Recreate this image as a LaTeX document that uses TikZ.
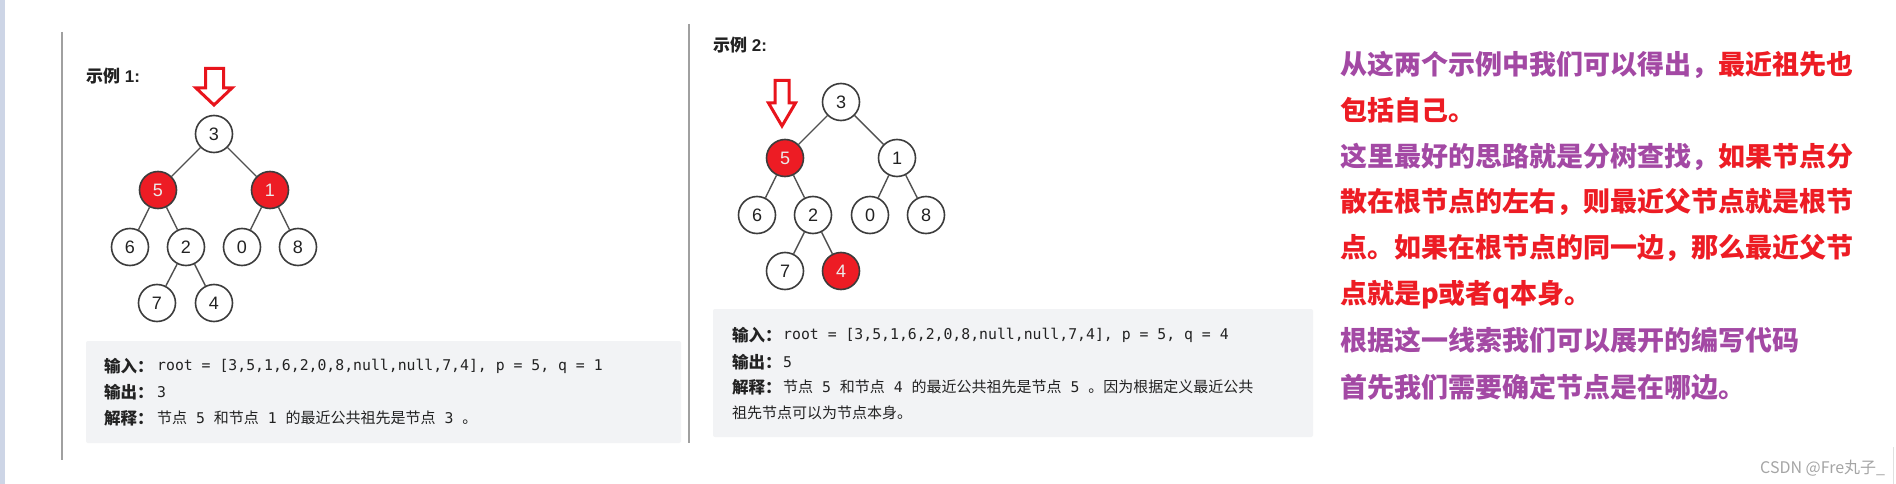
\documentclass[tikz,border=0pt]{standalone}
\usepackage{fontspec}
\setmainfont{Liberation Sans}
\newfontfamily\cjk{Noto Sans CJK SC}
\newfontfamily\mono{DejaVu Sans Mono}
\definecolor{strip}{HTML}{CDD5E6}
\definecolor{sepline}{HTML}{A0A0A0}
\definecolor{boxbg}{HTML}{F2F3F5}
\definecolor{nodered}{HTML}{ED1C24}
\definecolor{arrred}{HTML}{E8141C}
\definecolor{purp}{HTML}{A349A4}
\definecolor{redt}{HTML}{ED1C24}
\definecolor{txt}{HTML}{222222}
\tikzset{
  tnode/.style={circle, draw={rgb,255:red,60;green,60;blue,60}, line width=1.6pt, fill=white,
    minimum size=37pt, inner sep=0pt, font=\fontsize{18}{20}\selectfont, text={rgb,255:red,34;green,34;blue,34}},
  rnode/.style={tnode, fill=nodered, text={rgb,255:red,235;green,235;blue,235}},
  tedge/.style={draw={rgb,255:red,80;green,80;blue,80}, line width=1.4pt},
  hollowarrow/.style={draw=arrred, line width=3pt, line join=miter},
  title/.style={anchor=west, inner sep=0pt, text=txt, font=\fontsize{17}{19}\selectfont\bfseries},
  lbl/.style={anchor=west, inner sep=0pt, text=txt, font=\cjk\fontsize{16.5}{18}\selectfont\bfseries},
  body/.style={anchor=west, inner sep=0pt, text=txt, font=\cjk\fontsize{15}{18}\selectfont},
  side/.style={anchor=west, inner sep=0pt, font=\cjk\fontsize{27}{30}\selectfont\bfseries},
  wmark/.style={anchor=west, inner sep=0pt, text={rgb,255:red,165;green,165;blue,165}, font=\cjk\fontsize{16}{18}\selectfont}
}
\newcommand{\mn}[1]{{\mono\fontsize{14.8}{18}\selectfont #1}}
\begin{document}
\begin{tikzpicture}[x=1pt,y=-1pt]
\useasboundingbox (0,0) rectangle (1896,484);
\fill[white] (0,0) rectangle (1896,484);
\fill[strip] (0,0) rectangle (5,484);
% separators
\coordinate (s1a) at (62,32); \coordinate (s1b) at (62,460);
\coordinate (s2a) at (689,24); \coordinate (s2b) at (689,443);
\coordinate (s3a) at (1893,447); \coordinate (s3b) at (1893,484);
\draw[sepline, line width=1.2pt] (s1a) -- (s1b);
\draw[sepline, line width=1.2pt] (s2a) -- (s2b);
\draw[black!12, line width=1pt] (s3a) -- (s3b);

% ===== Example 1 =====
\node[title] (t1) at (86,76) {{\cjk 示例} 1:};
\draw[hollowarrow] (205.5,68.5) -- (223.5,68.5) -- (223.5,88) -- (232,88) -- (214,105) -- (196,88) -- (205.5,88) -- cycle;
\node[tnode] (a3) at (214,134) {3};
\node[rnode] (a5) at (158,190) {5};
\node[rnode] (a1) at (270,190) {1};
\node[tnode] (a6) at (130,247) {6};
\node[tnode] (a2) at (186,247) {2};
\node[tnode] (a0) at (242,247) {0};
\node[tnode] (a8) at (298,247) {8};
\node[tnode] (a7) at (157,303) {7};
\node[tnode] (a4) at (214,303) {4};
\draw[tedge] (a3) -- (a5); \draw[tedge] (a3) -- (a1);
\draw[tedge] (a5) -- (a6); \draw[tedge] (a5) -- (a2);
\draw[tedge] (a1) -- (a0); \draw[tedge] (a1) -- (a8);
\draw[tedge] (a2) -- (a7); \draw[tedge] (a2) -- (a4);

\fill[boxbg, rounded corners=2pt] (86,341) rectangle (681,443);
\node[lbl] (l11) at (104,366) {输入：};
\node[body] (b11) at (157,366) {\mn{root = [3,5,1,6,2,0,8,null,null,7,4], p = 5, q = 1}};
\node[lbl] (l12) at (104,392) {输出：};
\node[body] (b12) at (157,392) {\mn{3}};
\node[lbl] (l13) at (104,418) {解释：};
\node[body] (b13) at (157,418) {节点\mn{\ 5\ }和节点\mn{\ 1\ }的最近公共祖先是节点\mn{\ 3\ }。};

% ===== Example 2 =====
\node[title] (t2) at (713,45) {{\cjk 示例} 2:};
\draw[hollowarrow] (775,80.5) -- (789,80.5) -- (789,103) -- (795.5,103) -- (782,126) -- (768.5,103) -- (775,103) -- cycle;
\node[tnode] (c3) at (841,102) {3};
\node[rnode] (c5) at (785,158) {5};
\node[tnode] (c1) at (897,158) {1};
\node[tnode] (c6) at (757,215) {6};
\node[tnode] (c2) at (813,215) {2};
\node[tnode] (c0) at (870,215) {0};
\node[tnode] (c8) at (926,215) {8};
\node[tnode] (c7) at (785,271) {7};
\node[rnode] (c4) at (841,271) {4};
\draw[tedge] (c3) -- (c5); \draw[tedge] (c3) -- (c1);
\draw[tedge] (c5) -- (c6); \draw[tedge] (c5) -- (c2);
\draw[tedge] (c1) -- (c0); \draw[tedge] (c1) -- (c8);
\draw[tedge] (c2) -- (c7); \draw[tedge] (c2) -- (c4);

\fill[boxbg, rounded corners=2pt] (713,309) rectangle (1313,437);
\node[lbl] (l21) at (732,335) {输入：};
\node[body] (b21) at (783,335) {\mn{root = [3,5,1,6,2,0,8,null,null,7,4], p = 5, q = 4}};
\node[lbl] (l22) at (732,362) {输出：};
\node[body] (b22) at (783,362) {\mn{5}};
\node[lbl] (l23) at (732,387) {解释：};
\node[body] (b23) at (783,387) {节点\mn{\ 5\ }和节点\mn{\ 4\ }的最近公共祖先是节点\mn{\ 5\ }。因为根据定义最近公共};
\node[body] (b24) at (732,413) {祖先节点可以为节点本身。};

% ===== Side text =====
\node[side] (r1) at (1340,65) {\textcolor{purp}{从这两个示例中我们可以得出，}\textcolor{redt}{最近祖先也}};
\node[side, text=redt] (r2) at (1340,110) {包括自己。};
\node[side] (r3) at (1340,157) {\textcolor{purp}{这里最好的思路就是分树查找，}\textcolor{redt}{如果节点分}};
\node[side, text=redt] (r4) at (1340,202) {散在根节点的左右，则最近父节点就是根节};
\node[side, text=redt] (r5) at (1340,248) {点。如果在根节点的同一边，那么最近父节};
\node[side, text=redt] (r6) at (1340,295) {点就是p或者q本身。};
\node[side, text=purp] (r7) at (1340,340) {根据这一线索我们可以展开的编写代码};
\node[side, text=purp] (r8) at (1340,387) {首先我们需要确定节点是在哪边。};

\node[wmark] (wm) at (1760,468) {CSDN @Fre丸子\_};
\end{tikzpicture}
\end{document}
